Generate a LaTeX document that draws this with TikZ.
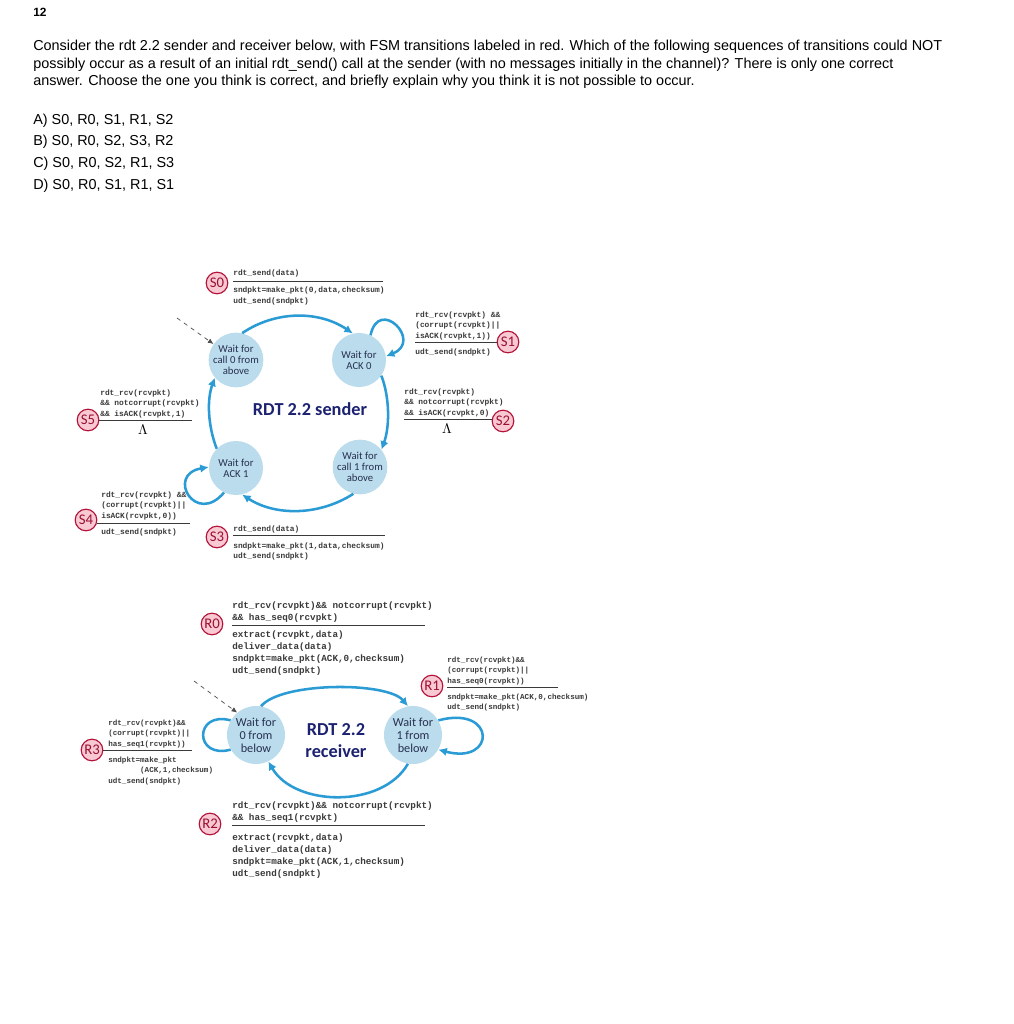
\documentclass[tikz,border=0pt]{standalone}
\usepackage{fontspec}
\setmainfont{Liberation Sans}
\newfontfamily\codefont{Liberation Mono}
\newfontfamily\statefont{Carlito}
\usetikzlibrary{arrows.meta}

\definecolor{arcblue}{HTML}{2A9BD5}
\definecolor{statefill}{HTML}{BADCEC}
\definecolor{statetext}{HTML}{283050}
\definecolor{navy}{HTML}{1C2270}
\definecolor{tagred}{HTML}{B5123A}
\definecolor{tagpink}{HTML}{F8C9D3}
\definecolor{codegray}{HTML}{3A3A3A}

\tikzset{
  qtext/.style={anchor=west, inner sep=0pt, font=\fontsize{10.25}{12}\selectfont},
  sstate/.style={circle, fill=statefill, minimum size=1.35cm, inner sep=0pt, align=center,
    text=statetext, font=\statefont\fontsize{7.6}{8}\selectfont},
  rstate/.style={sstate, minimum size=1.45cm, font=\statefont\fontsize{8.7}{9.3}\selectfont},
  fsmtitle/.style={align=center, text=navy, font=\statefont\bfseries\fontsize{13}{15.6}\selectfont},
  redtag/.style={circle, draw=tagred, fill=tagpink, line width=0.8pt, minimum size=0.54cm,
    inner sep=0pt, text=tagred!85!black, font=\statefont\fontsize{10.5}{10.5}\selectfont},
  codetext/.style={anchor=north west, inner sep=0pt, align=left, text=codegray,
    font=\codefont\bfseries\fontsize{5.6}{7.4}\selectfont},
  bigcode/.style={codetext, font=\codefont\bfseries\fontsize{6.6}{8.6}\selectfont},
  smallcode/.style={codetext, font=\codefont\bfseries\fontsize{5.4}{7.4}\selectfont},
  sepline/.style={draw=codegray, line width=0.6pt},
  fsmline/.style={draw=arcblue, line width=1.8pt},
  fsmarc/.style={fsmline, -{Latex[length=6pt,width=6pt]}},
  initarrow/.style={draw=black!70, dashed, line width=0.5pt, -{Latex[length=4pt,width=3.5pt]}}
}

\begin{document}
\begin{tikzpicture}[x=0.025cm, y=0.025cm]
    \fill[white] (0,0) rectangle (1013,-1024);
    \useasboundingbox (0,0) rectangle (1013,-1024);

    % question
    \node[qtext, font=\bfseries\fontsize{8.5}{10}\selectfont] (qnum) at (33,-12) {12};
    \node[qtext] (q1) at (33,-47) {Consider the rdt 2.2 sender and receiver below, with FSM transitions labeled in red. Which of the following sequences of transitions could NOT};
    \node[qtext] (q2) at (33,-65) {possibly occur as a result of an initial rdt\_send() call at the sender (with no messages initially in the channel)? There is only one correct};
    \node[qtext] (q3) at (33,-82) {answer. Choose the one you think is correct, and briefly explain why you think it is not possible to occur.};
    \node[qtext] (optA) at (33,-121) {A) S0, R0, S1, R1, S2};
    \node[qtext] (optB) at (33,-142) {B) S0, R0, S2, S3, R2};
    \node[qtext] (optC) at (33,-164) {C) S0, R0, S2, R1, S3};
    \node[qtext] (optD) at (33,-186) {D) S0, R0, S1, R1, S1};

    % sender
    \node[sstate] (call0) at (236,-360) {Wait for\\call 0 from\\above};
    \node[sstate] (ack0) at (359,-360) {Wait for\\ACK 0};
    \node[sstate] (ack1) at (236,-468) {Wait for\\ACK 1};
    \node[sstate] (call1) at (360,-467) {Wait for\\call 1 from\\above};
    \node[fsmtitle] (sender) at (310,-409) {RDT 2.2 sender};

    \draw[fsmarc] (call0.77) to[out=34,in=146,distance=1.02cm] (ack0.103);
    \draw[fsmarc] (ack0.-35) to[out=-69,in=70,distance=0.6cm] (call1.39);
    \draw[fsmarc] (call1.-104) to[out=213,in=-33,distance=1cm] (ack1.-77);
    \draw[fsmarc] (ack1.135) to[out=111,in=250,distance=0.6cm] (call0.220);
    \draw[fsmarc] (ack0.65) to[out=78,in=22,distance=1cm] (ack0.8);
    \draw[fsmarc] (ack1.244) to[out=230,in=190,distance=1.1cm] (ack1.178);

    \coordinate (sinit) at (177,-318);
    \draw[initarrow] (sinit) -- (call0);

    \node[redtag] (s0) at (217,-283) {S0};
    \node[codetext] (s0ev) at (233,-270) {rdt\_send(data)};
    \draw[sepline] (233,-281) -- (383,-281);
    \node[codetext] (s0act) at (233,-287) {sndpkt=make\_pkt(0,data,checksum)\\udt\_send(sndpkt)};

    \node[redtag] (s1) at (508,-342) {S1};
    \node[codetext] (s1ev) at (415,-311.5) {rdt\_rcv(rcvpkt) \&\&\\(corrupt(rcvpkt)||\\isACK(rcvpkt,1))};
    \draw[sepline] (415,-342) -- (s1.west);
    \node[codetext] (s1act) at (415,-348.5) {udt\_send(sndpkt)};

    \node[redtag] (s2) at (503,-421) {S2};
    \node[codetext] (s2ev) at (404,-388.5) {rdt\_rcv(rcvpkt)\\\&\& notcorrupt(rcvpkt)\\\&\& isACK(rcvpkt,0)};
    \draw[sepline] (404,-419) -- (492,-419);
    \node (s2act) at (447,-429) {$\Lambda$};

    \node[redtag] (s5) at (88,-420) {S5};
    \node[codetext] (s5ev) at (100,-389.5) {rdt\_rcv(rcvpkt)\\\&\& notcorrupt(rcvpkt)\\\&\& isACK(rcvpkt,1)};
    \draw[sepline] (s5.east) -- (192,-420);
    \node (s5act) at (143,-430) {$\Lambda$};

    \node[redtag] (s4) at (86,-520) {S4};
    \node[codetext] (s4ev) at (101,-491.5) {rdt\_rcv(rcvpkt) \&\&\\(corrupt(rcvpkt)||\\isACK(rcvpkt,0))};
    \draw[sepline] (97,-523) -- (190,-523);
    \node[codetext] (s4act) at (101,-528.5) {udt\_send(sndpkt)};

    \node[redtag] (s3) at (217,-537) {S3};
    \node[codetext] (s3ev) at (233,-525.5) {rdt\_send(data)};
    \draw[sepline] (233,-535) -- (385,-535);
    \node[codetext] (s3act) at (233,-542.5) {sndpkt=make\_pkt(1,data,checksum)\\udt\_send(sndpkt)};

    % receiver
    \node[rstate] (wait0) at (256,-735) {Wait for\\0 from\\below};
    \node[rstate] (wait1) at (413,-735) {Wait for\\1 from\\below};
    \node[fsmtitle] (receiver) at (336,-741) {RDT 2.2\\receiver};

    \draw[fsmarc] (wait0.80) to[out=50,in=130,distance=0.8cm] (wait1.100);
    \draw[fsmarc] (wait1.-100) to[out=-120,in=-60,distance=1.3cm] (wait0.-65);
    \draw[fsmline] (wait0.150) to[out=165,in=195,distance=0.95cm] (wait0.210);
    \draw[fsmarc] (wait1.30) to[out=15,in=-15,distance=1.5cm] (wait1.-30);

    \coordinate (rinit) at (194,-681);
    \draw[initarrow] (rinit) -- (wait0.130);

    \node[redtag] (r0) at (212,-624) {R0};
    \node[bigcode] (r0ev) at (232,-601) {rdt\_rcv(rcvpkt)\&\& notcorrupt(rcvpkt)\\\&\& has\_seq0(rcvpkt)};
    \draw[sepline] (232,-625) -- (425,-625);
    \node[bigcode] (r0act) at (232,-630) {extract(rcvpkt,data)\\deliver\_data(data)\\sndpkt=make\_pkt(ACK,0,checksum)\\udt\_send(sndpkt)};

    \node[redtag] (r1) at (432,-686) {R1};
    \node[smallcode] (r1ev) at (447,-656.5) {rdt\_rcv(rcvpkt)\&\&\\(corrupt(rcvpkt)||\\has\_seq0(rcvpkt))};
    \draw[sepline] (447,-687) -- (558,-687);
    \node[smallcode] (r1act) at (447,-693.5) {sndpkt=make\_pkt(ACK,0,checksum)\\udt\_send(sndpkt)};

    \node[redtag] (r3) at (92,-750) {R3};
    \node[smallcode] (r3ev) at (108,-719.5) {rdt\_rcv(rcvpkt)\&\&\\(corrupt(rcvpkt)||\\has\_seq1(rcvpkt))};
    \draw[sepline] (r3.east) -- (192,-750);
    \node[smallcode] (r3act) at (108,-756.5) {sndpkt=make\_pkt\\\phantom{sndpkt=}(ACK,1,checksum)\\udt\_send(sndpkt)};

    \node[redtag] (r2) at (210,-824) {R2};
    \node[bigcode] (r2ev) at (232,-801) {rdt\_rcv(rcvpkt)\&\& notcorrupt(rcvpkt)\\\&\& has\_seq1(rcvpkt)};
    \draw[sepline] (232,-825) -- (425,-825);
    \node[bigcode] (r2act) at (232,-833) {extract(rcvpkt,data)\\deliver\_data(data)\\sndpkt=make\_pkt(ACK,1,checksum)\\udt\_send(sndpkt)};
\end{tikzpicture}
\end{document}
